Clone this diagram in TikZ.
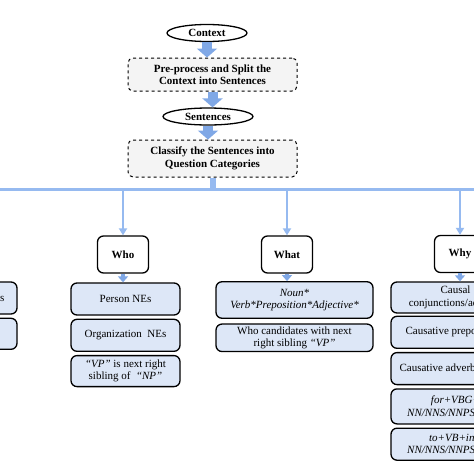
\documentclass[tikz,border=0pt]{standalone}
\usepackage{fontspec}
\setmainfont{Liberation Serif}
\usetikzlibrary{positioning,shapes.geometric,arrows.meta}
\definecolor{boxblue}{RGB}{221,231,247}
\definecolor{lineblue}{RGB}{150,186,240}
\definecolor{arrowblue}{RGB}{128,168,230}
\definecolor{stepgray}{RGB}{244,244,244}

\begin{document}
\begin{tikzpicture}[x=1pt,y=-1pt,
    font=\fontsize{11}{12.5}\selectfont,
    oval node/.style={ellipse,draw,line width=1.3pt,inner sep=0pt,font=\fontsize{11}{12.5}\selectfont\bfseries},
    task node/.style={rectangle,rounded corners=5pt,draw,dashed,line width=1pt,fill=stepgray,
                      minimum width=169pt,align=center,inner sep=1pt,font=\fontsize{11}{12.5}\selectfont\bfseries},
    cat node/.style={rectangle,rounded corners=6pt,draw,line width=1.3pt,fill=white,
                     minimum width=51pt,minimum height=37pt,font=\fontsize{11}{12.5}\selectfont\bfseries},
    rule node/.style={rectangle,rounded corners=6pt,draw,line width=1.3pt,fill=boxblue,align=center,inner sep=1pt},
    block/.style={-{Triangle[length=9pt,width=20pt]},line width=10pt,draw=arrowblue},
    small block/.style={-{Triangle[length=6pt,width=10pt]},line width=4pt,draw=arrowblue},
    drop/.style={-{Triangle[length=7pt,width=8pt]},draw=lineblue,line width=2.5pt}]

  \useasboundingbox[fill=white] (0,0) rectangle (474,474);
  \clip (0,0) rectangle (474,474);

  % main steps
  \node[oval node,minimum width=80pt,minimum height=17pt] (ctx) at (207,33) {Context};
  \node[task node,minimum height=33pt] (prep) at (212.5,74.5) {Pre-process and Split the\\Context into Sentences};
  \node[oval node,minimum width=90pt,minimum height=17pt] (sent) at (208,116.5) {Sentences};
  \node[task node,minimum height=37pt] (cls) at (212.5,158.5) {Classify the Sentences into\\Question Categories};

  \draw[block] (ctx) -- (ctx |- prep.north);
  \draw[block] (prep) -- (prep |- sent.north);
  \draw[block] (sent) -- (sent |- cls.north);

  % bus line
  \coordinate (busL) at (-5,189);
  \coordinate (busR) at (480,189);
  \draw[lineblue,line width=3pt] (busL) -- (busR);
  \draw[lineblue,line width=6pt] (cls.south) -- (cls.south |- busL);

  % question categories
  \node[cat node] (who) at (123,254.5) {Who};
  \node[cat node] (what) at (287,254.5) {What};
  \node[cat node] (why) at (460,254) {Why};

  \coordinate (jwho) at (123,189);
  \coordinate (jwhat) at (287,189);
  \coordinate (jwhy) at (460,189);
  \draw[drop] (jwho) -- (who);
  \draw[drop] (jwhat) -- (what);
  \draw[drop] (jwhy) -- (why);

  % left column (cut off)
  \node[rule node,minimum width=86pt,minimum height=32pt] (loc) at (-26,298) {Location NEs};
  \node[rule node,minimum width=86pt,minimum height=31pt] (loc2) [below=3pt of loc] {};

  % who column
  \node[rule node,minimum width=109pt,minimum height=32pt] (pers) at (125.5,299) {Person NEs};
  \node[rule node,minimum width=109pt,minimum height=32pt] (org) [below=3pt of pers] {Organization\ \ NEs};
  \node[rule node,minimum width=109pt,minimum height=31pt] (vpnp) [below=3pt of org]
    {\textit{“VP”} is next right\\sibling of\ \ \textit{“NP”}};

  % what column
  \node[rule node,minimum width=157pt,minimum height=36.5pt] (noun) at (294.5,300)
    {\textit{Noun*}\\\textit{Verb*Preposition*Adjective*}};
  \node[rule node,minimum width=157pt,minimum height=27.5pt] (cand) [below=4.5pt of noun]
    {Who candidates with next\\right sibling \textit{“VP”}};

  % why column
  \node[rule node,minimum width=129pt,minimum height=31pt] (caus1) at (455.5,297.5) {Causal\\conjunctions/adverbs};
  \node[rule node,minimum width=129pt,minimum height=32pt] (caus2) [below=2pt of caus1] {Causative prepositions};
  \node[rule node,minimum width=129pt,minimum height=32pt] (caus3) [below=3pt of caus2] {Causative adverb phrases};
  \node[rule node,minimum width=129pt,minimum height=35pt] (caus4) [below=3pt of caus3]
    {\textit{for+VBG+}\\\textit{NN/NNS/NNPS/PRP\$}};
  \node[rule node,minimum width=129pt,minimum height=32pt] (caus5) [below=3pt of caus4]
    {\textit{to+VB+in+}\\\textit{NN/NNS/NNPS/PRP\$}};

  \draw[small block] (who) -- (who |- pers.north);
  \draw[small block] (what) -- (what |- noun.north);
  \draw[small block] (why) -- (why |- caus1.north);
\end{tikzpicture}
\end{document}
